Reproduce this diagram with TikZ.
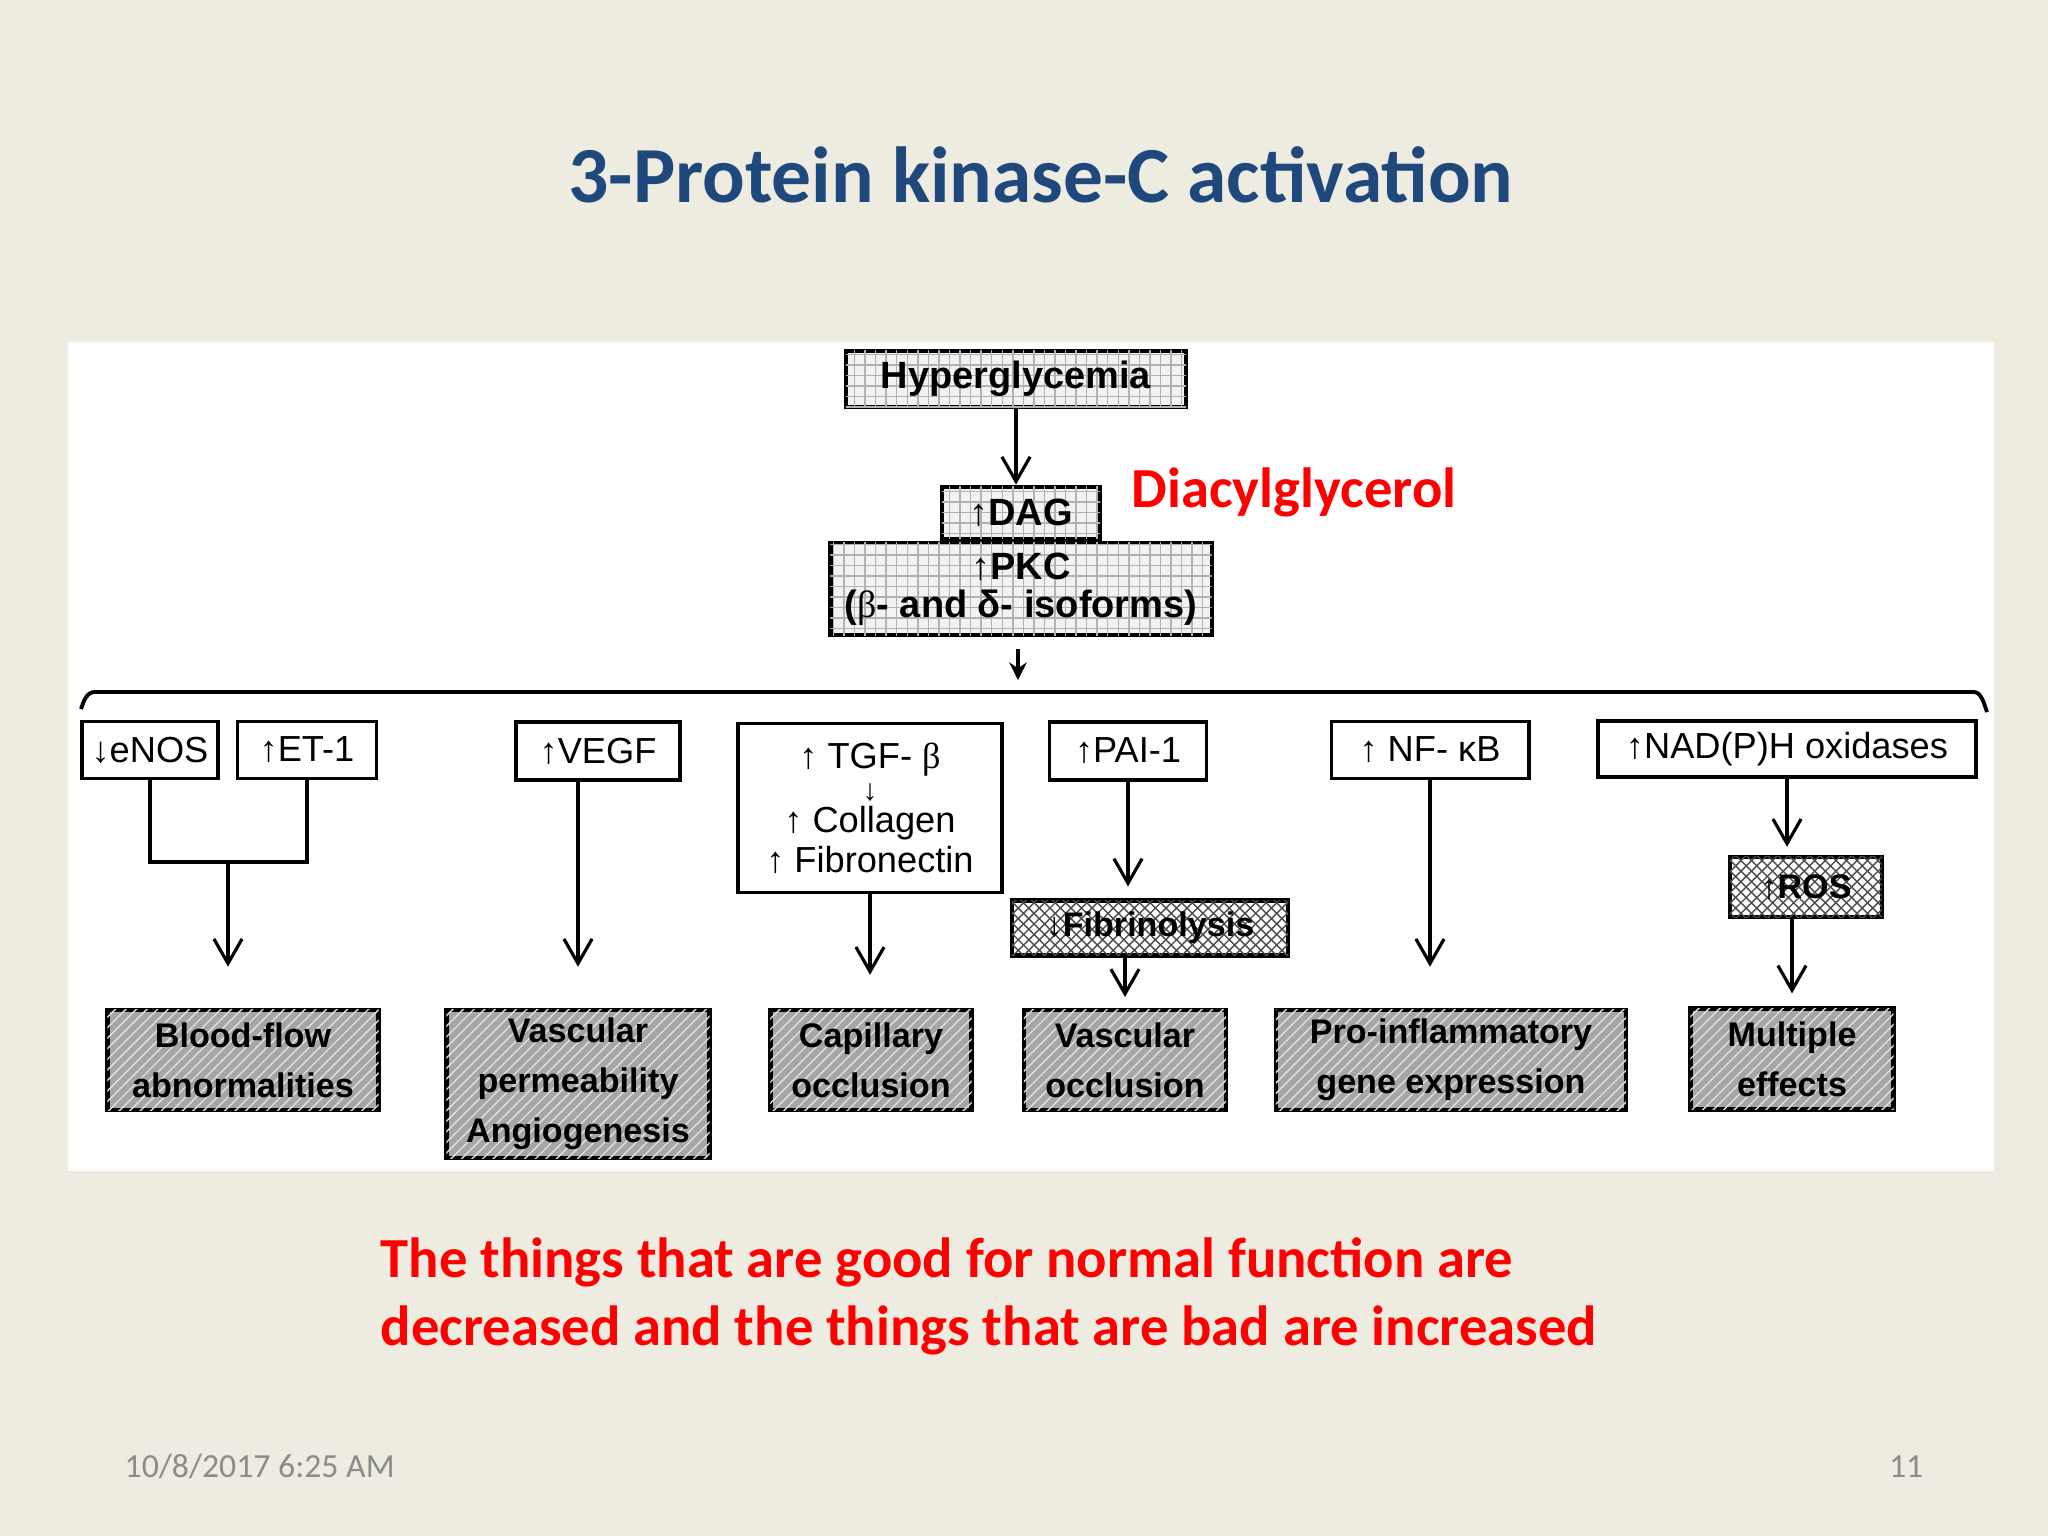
\documentclass[tikz,border=0pt]{standalone}
\usepackage{fontspec}
\setmainfont{Liberation Sans}
\newfontfamily\slidefont{Carlito}
\newfontfamily\grfont{Liberation Serif}
\usetikzlibrary{arrows.meta,positioning,patterns}
\definecolor{slidebg}{HTML}{EEECE1}
\definecolor{titleblue}{HTML}{1F497D}
\definecolor{footgray}{HTML}{8B8B8B}

\begin{document}
\begin{tikzpicture}[
  x=0.01cm, y=-0.01cm,
  >={Straight Barb[length=7pt,width=8pt]},
  every node/.style={inner sep=0pt},
  plain/.style={draw, line width=1.1pt, fill=white, align=center,
                font=\fontsize{10.3}{11.2}\selectfont},
  gridbox/.style={draw, line width=1.2pt, fill=gray!10, align=center,
                  font=\bfseries\fontsize{10.8}{10.8}\selectfont,
                  postaction={pattern=grid, pattern color=gray!60}},
  hatchbox/.style={draw, line width=1.2pt, fill=white, align=center,
                   font=\bfseries\fontsize{9.7}{12}\selectfont,
                   postaction={pattern=crosshatch, pattern color=black!70}},
  outbox/.style={draw, line width=1.2pt, fill=black!35, align=center,
                 font=\bfseries\fontsize{9.7}{14.2}\selectfont,
                 postaction={pattern=north east lines, pattern color=gray!25}},
  arr/.style={->, line width=0.9pt},
  redtxt/.style={text=red, font=\slidefont\bfseries\fontsize{16.1}{19.3}\selectfont}
]
  % slide and figure panel
  \fill[slidebg] (0,0) rectangle (2048,1536);
  \fill[white] (68,342) rectangle (1994,1171);

  \node[text=titleblue, font=\slidefont\bfseries\fontsize{22.6}{27}\selectfont,
        anchor=base] (title) at (1041,202) {3-Protein kinase-C activation};

  % upstream chain
  \node[gridbox, minimum width=3.40cm, minimum height=0.56cm] (hyper) at (1016,379) {Hyperglycemia};
  \node[gridbox, minimum width=3.81cm, minimum height=0.92cm] (pkc) at (1021,589)
    {↑PKC\\({\grfont\mdseries β}- and δ- isoforms)};
  \node[gridbox, minimum width=1.58cm, minimum height=0.52cm, above=0pt of pkc] (dag) {↑DAG};
  \node[redtxt, anchor=base west] (diacyl) at (1131,507) {Diacylglycerol};

  \draw[arr] (hyper.south) -- (hyper.south |- dag.north);
  \coordinate (brace) at (1018,692);
  \draw[-{Stealth[length=5pt,width=5pt]}, line width=1.2pt, shorten <=3.4pt, shorten >=3.4pt]
    (pkc.south -| brace) -- (brace);
  \draw[line width=1.1pt] (81,709) .. controls (84,700) and (87,692) .. (95,692)
    -- (1974,692) .. controls (1981,692) and (1984,703) .. (1987,712);

  % mediators
  \node[plain, minimum width=1.36cm, minimum height=0.57cm] (enos) at (150,750) {↓eNOS};
  \node[plain, minimum width=1.39cm, minimum height=0.57cm] (et1) at (307,750) {↑ET-1};
  \node[plain, minimum width=1.64cm, minimum height=0.58cm] (vegf) at (598,751) {↑VEGF};
  \node[plain, minimum width=2.63cm, minimum height=1.69cm] (tgf) at (870,808)
    {↑ TGF- {\grfont β}\\[-2pt]{\fontsize{8.5}{11.2}\selectfont ↓}\\[-2pt]↑ Collagen\\↑ Fibronectin};
  \node[plain, minimum width=1.57cm, minimum height=0.58cm] (pai) at (1128,751) {↑PAI-1};
  \node[plain, minimum width=1.97cm, minimum height=0.57cm] (nfkb) at (1430,750) {↑ NF- κB};
  \node[plain, minimum width=3.77cm, minimum height=0.56cm] (nadph) at (1787,749) {↑NAD(P)H oxidases};
  \node[hatchbox, minimum width=2.76cm, minimum height=0.55cm] (fibr) at (1150,928) {↓Fibrinolysis};
  \node[hatchbox, minimum width=1.52cm, minimum height=0.60cm] (ros) at (1806,887) {↑ROS};

  % outcomes
  \node[outbox, minimum width=2.71cm, minimum height=1.00cm] (blood) at (243,1060) {Blood-flow\\abnormalities};
  \node[outbox, minimum width=2.63cm, minimum height=1.48cm] (perm) at (578,1084) {Vascular\\permeability\\Angiogenesis};
  \node[outbox, minimum width=2.01cm, minimum height=1.00cm] (capil) at (871,1060) {Capillary\\occlusion};
  \node[outbox, minimum width=2.02cm, minimum height=1.00cm] (vasc) at (1125,1060) {Vascular\\occlusion};
  \node[outbox, minimum width=3.50cm, minimum height=1.00cm] (proinf) at (1451,1060) {Pro-inflammatory\\gene expression};
  \node[outbox, minimum width=2.03cm, minimum height=1.01cm] (multi) at (1792,1059) {Multiple\\effects};

  \coordinate (join) at (228,862);
  \draw[line width=0.9pt] (enos.south) |- (join) -| (et1.south);
  \draw[arr, shorten >=11.7pt] (join) -- (join |- blood.north);
  \draw[arr, shorten >=11.7pt] (vegf.south -| perm.north) -- (perm.north);
  \draw[arr, shorten >=9.4pt] (tgf.south) -- (tgf.south |- capil.north);
  \draw[arr, shorten >=3.4pt] (pai.south) -- (pai.south |- fibr.north);
  \draw[arr, shorten >=3.1pt] (fibr.south -| vasc.north) -- (vasc.north);
  \draw[arr, shorten >=11.7pt] (nfkb.south) -- (nfkb.south |- proinf.north);
  \draw[arr, shorten >=2.3pt] (nadph.south) -- (nadph.south |- ros.north);
  \draw[arr, shorten >=3.7pt] (ros.south -| multi.north) -- (multi.north);

  % notes
  \node[redtxt, anchor=base west] (note1) at (380,1277) {The things that are good for normal function are};
  \node[redtxt, anchor=base west] (note2) at (380,1345) {decreased and the things that are bad are increased};
  \node[text=footgray, font=\slidefont\fontsize{9.6}{11}\selectfont, anchor=base west] (date) at (124,1477) {10/8/2017 6:25 AM};
  \node[text=footgray, font=\slidefont\fontsize{9.6}{11}\selectfont, anchor=base east] (page) at (1924,1477) {11};
\end{tikzpicture}
\end{document}
